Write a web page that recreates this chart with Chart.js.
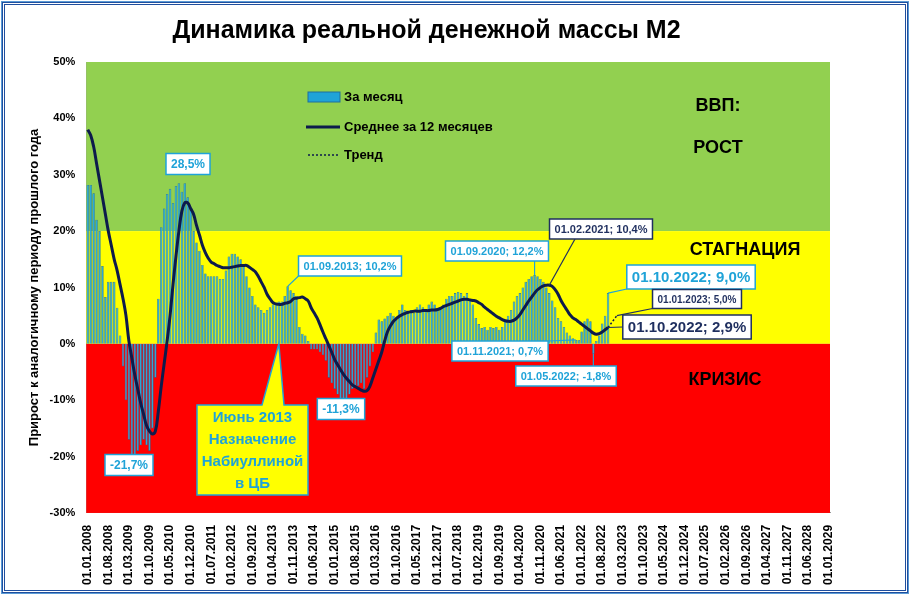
<!DOCTYPE html>
<html lang="ru">
<head>
<meta charset="UTF-8">
<title>Динамика реальной денежной массы М2</title>
<script src="https://cdn.jsdelivr.net/npm/chart.js"></script>
<style>
  html, body { margin: 0; padding: 0; background: #fff; }
  .frame { position: absolute; left: 2px; top: 2px; width: 900px; height: 585px; border: 3px double #1F4E9E; box-shadow: 0 0 0 1px #5B9BD5; }
  canvas { position: absolute; left: 0; top: 0; }
</style>
</head>
<body>
<div class="frame"></div>
<canvas id="m2" width="910" height="595"></canvas>
<script>
// Monthly categories 01.01.2008 .. 01.01.2029
const labels = [];
for (let y = 2008; y <= 2029; y++) {
  for (let m = 1; m <= 12; m++) {
    if (y === 2029 && m > 1) break;
    labels.push('01.' + String(m).padStart(2, '0') + '.' + y);
  }
}

// Real M2 growth, y/y, per month (2008-01 .. 2022-10)
const monthly = [
  28.2, 28.2, 26.7, 22, 20, 13.8, 8.3, 11, 11, 11, 6.4, 1.5,
  -4, -10, -17, -20, -21.7, -19, -18, -17, -18, -19, -15, -6,
  8, 20.7, 24, 26.6, 27.5, 25, 28, 28.5, 27, 28.5, 26, 24,
  20, 18, 16.5, 14, 12.5, 12, 12, 12, 12, 11.5, 11.5, 13,
  15.5, 16, 16, 15.5, 15, 14, 12, 10, 8.5, 7, 6.5, 6,
  5.5, 6, 6.5, 7, 7, 7.5, 7.5, 8.5, 10.2, 9.5, 9, 8.5,
  3, 1.8, 1.5, 0.5, -1, -1, -1, -1.5, -2, -3, -6, -7,
  -8, -9, -10.5, -11.3, -10, -9, -8, -7.5, -7.5, -7, -8, -6,
  -4, -1.5, 2, 4.3, 4, 4.5, 5, 5.5, 5, 4.5, 6, 7,
  6, 5.5, 6, 5.5, 6.5, 7, 6.5, 6, 7, 7.5, 7, 6,
  6.5, 7, 8, 8.5, 8.5, 9, 9.2, 9, 8.5, 9, 8, 7,
  4.6, 3.5, 2.8, 3, 2.5, 3, 2.8, 3, 2.5, 3, 4, 5,
  6, 7.5, 8.5, 9, 10, 11, 11.5, 12, 12.2, 12, 11.5, 11,
  10, 9, 7.7, 6.5, 4.6, 4, 3, 2, 1.5, 1, 0.7, 0.7,
  2.2, 4, 4.5, 4, -1.8, 0.5, 1.5, 3.6, 5, 9.0
];

// 12-month average
const avg12 = [
  38, 37, 35, 32, 29, 26, 23, 20, 17.5, 15, 13, 10.5,
  8, 5, 0.5, -2.5, -5.5, -8, -10.5, -12.5, -14.5, -15.5, -16, -15.5,
  -12, -7.5, -3.5, 0.5, 5, 10.5, 15.5, 20, 23.5, 25, 25, 24,
  23, 21, 19.3, 17.5, 16.2, 15.2, 14.5, 14.2, 13.9, 13.7, 13.5, 13.5,
  13.5, 13.6, 13.7, 13.8, 13.9, 13.9, 13.9, 13.6, 13.2, 12.8, 12, 11,
  10, 8.8, 8, 7.3, 7.1, 7, 7, 7.2, 7.3, 7.5, 8, 8.1,
  8.2, 8.3, 8, 7.6, 6.4, 5.5, 4.6, 3.4, 2.1, 0.9, -0.3, -1.5,
  -2.8, -3.7, -4.6, -5.4, -6.1, -6.7, -7.3, -7.6, -7.9, -8.2, -8.4, -8.3,
  -7.5, -6, -4.5, -3, -1.5, 0.5, 2.2, 3.2, 4, 4.5, 4.9, 5.2,
  5.4, 5.6, 5.7, 5.8, 5.8, 5.8, 5.9, 5.9, 5.9, 6, 6, 6.1,
  6.3, 6.6, 6.8, 7, 7.2, 7.4, 7.6, 7.8, 7.9, 7.9, 7.8, 7.7,
  7.6, 7.3, 7, 6.5, 6.1, 5.7, 5.3, 4.9, 4.6, 4.3, 4.1, 4,
  4, 4.2, 4.6, 5.2, 6, 6.8, 7.6, 8.3, 9, 9.6, 10, 10.3,
  10.4, 10.4, 10.2, 9.6, 8.8, 7.7, 6.8, 6, 5.2, 4.6, 4.3, 3.9,
  3.5, 3.1, 2.7, 2.3, 1.9, 1.7, 1.8, 2.1, 2.5, 2.9
];

// trend: 01.10.2022 -> 01.01.2023
const trendIdx = [177, 180];
const trendVal = [2.9, 5.0];

const yTicks = [-30, -20, -10, 0, 10, 20, 30, 40, 50];
const zones = [
  { from: 20, to: 50, color: '#92D050' },
  { from: 0, to: 20, color: '#FFFF00' },
  { from: -30, to: 0, color: '#FF0000' }
];
const zoneTitles = [
  { text: 'ВВП:', x: 718, y: 106 },
  { text: 'РОСТ', x: 718, y: 148 },
  { text: 'СТАГНАЦИЯ', x: 745, y: 250 },
  { text: 'КРИЗИС', x: 725, y: 380 }
];

const CYAN = '#1FA3D8', NAVY = '#1F2F5F';
// callouts: text, anchor (index, value), box centre in px
const callouts = [
  { text: '28,5%', cx: 188, cy: 164, color: CYAN, size: 12 },
  { text: '-21,7%', cx: 129, cy: 465, color: CYAN, size: 12 },
  { text: '-11,3%', cx: 341, cy: 409, color: CYAN, size: 12 },
  { text: '01.09.2013; 10,2%', cx: 350, cy: 266, color: CYAN, size: 11, i: 68, v: 10.2 },
  { text: '01.09.2020; 12,2%', cx: 497, cy: 251, color: CYAN, size: 11, i: 152, v: 12.2 },
  { text: '01.02.2021; 10,4%', cx: 601, cy: 229, color: NAVY, size: 11, i: 157, v: 10.4, ex: 575 },
  { text: '01.11.2021; 0,7%', cx: 500, cy: 351, color: CYAN, size: 11, i: 166, v: 0.7 },
  { text: '01.05.2022; -1,8%', cx: 566, cy: 376, color: CYAN, size: 11, i: 172, v: -1.8 },
  { text: '01.10.2022; 9,0%', cx: 691, cy: 277, color: CYAN, size: 15, i: 177, v: 9.0 },
  { text: '01.01.2023; 5,0%', cx: 697, cy: 299, color: NAVY, size: 10, i: 180, v: 5.0 },
  { text: '01.10.2022; 2,9%', cx: 687, cy: 327, color: NAVY, size: 15, i: 177, v: 2.9 }
];

const pad = (arr, n) => arr.concat(Array(n - arr.length).fill(null));
const trendData = labels.map((_, i) => { const k = trendIdx.indexOf(i); return k >= 0 ? trendVal[k] : null; });

const zonesPlugin = {
  id: 'zones',
  beforeDatasetsDraw(chart) {
    const { ctx, chartArea: a, scales: { y } } = chart;
    ctx.save();
    zones.forEach(z => {
      ctx.fillStyle = z.color;
      ctx.fillRect(a.left, y.getPixelForValue(z.to), a.right - a.left, y.getPixelForValue(z.from) - y.getPixelForValue(z.to));
    });
    ctx.restore();
  },
  afterDraw(chart) {
    const { ctx, scales: { x, y } } = chart;
    ctx.save();
    ctx.font = 'bold 18px "Liberation Sans", Arial';
    ctx.fillStyle = '#000';
    ctx.textAlign = 'center';
    ctx.textBaseline = 'middle';
    zoneTitles.forEach(t => ctx.fillText(t.text, t.x, t.y));

    // legend
    ctx.font = 'bold 13px "Liberation Sans", Arial';
    ctx.textAlign = 'left';
    ctx.fillStyle = CYAN; ctx.fillRect(308, 92, 32, 10);
    ctx.strokeStyle = '#1F6E9E'; ctx.strokeRect(308, 92, 32, 10);
    ctx.fillStyle = '#000'; ctx.fillText('За месяц', 344, 97);
    ctx.strokeStyle = '#0D1B4C'; ctx.lineWidth = 3;
    ctx.beginPath(); ctx.moveTo(306, 127); ctx.lineTo(340, 127); ctx.stroke();
    ctx.fillText('Среднее за 12 месяцев', 344, 127);
    ctx.lineWidth = 1.5; ctx.setLineDash([2, 2]);
    ctx.beginPath(); ctx.moveTo(308, 155); ctx.lineTo(340, 155); ctx.stroke();
    ctx.setLineDash([]);
    ctx.fillText('Тренд', 344, 155);

    // Nabiullina callout
    const px = x.getPixelForValue(65), py = y.getPixelForValue(0);
    ctx.fillStyle = '#FFFF00'; ctx.strokeStyle = CYAN; ctx.lineWidth = 1.5;
    ctx.beginPath();
    ctx.moveTo(197, 405); ctx.lineTo(262, 405); ctx.lineTo(px, py); ctx.lineTo(284, 405);
    ctx.lineTo(308, 405); ctx.lineTo(308, 495); ctx.lineTo(197, 495); ctx.closePath();
    ctx.fill(); ctx.stroke();
    ctx.fillStyle = CYAN; ctx.font = 'bold 15px "Liberation Sans", Arial'; ctx.textAlign = 'center';
    ['Июнь 2013', 'Назначение', 'Набиуллиной', 'в ЦБ'].forEach((s, k) => ctx.fillText(s, 252.5, 418 + k * 22));

    // value callouts
    callouts.forEach(c => {
      ctx.font = 'bold ' + c.size + 'px "Liberation Sans", Arial';
      const w = ctx.measureText(c.text).width + 10, h = c.size + 9;
      const bx = c.cx - w / 2, by = c.cy - h / 2;
      if (c.i !== undefined) {
        const ax = x.getPixelForValue(c.i), ay = y.getPixelForValue(c.v);
        ctx.strokeStyle = c.color; ctx.lineWidth = 1.2;
        ctx.beginPath();
        const ex = c.ex !== undefined ? c.ex : Math.max(bx, Math.min(bx + w, ax));
        const ey = ay < by ? by : (ay > by + h ? by + h : c.cy);
        ctx.moveTo(ex, ey); ctx.lineTo(ax, ay); ctx.stroke();
      }
      ctx.fillStyle = '#fff'; ctx.fillRect(bx, by, w, h);
      ctx.strokeStyle = c.color; ctx.lineWidth = 1.5; ctx.strokeRect(bx, by, w, h);
      ctx.fillStyle = c.color; ctx.textAlign = 'center';
      ctx.fillText(c.text, c.cx, c.cy + 1);
    });
    ctx.restore();
  }
};

new Chart(document.getElementById('m2'), {
  type: 'bar',
  data: {
    labels,
    datasets: [
      { type: 'line', label: 'Среднее за 12 месяцев', data: pad(avg12, labels.length), borderColor: '#0D1B4C', borderWidth: 3, pointRadius: 0, tension: 0.4, order: 1 },
      { type: 'line', label: 'Тренд', data: trendData, borderColor: '#0D1B4C', borderWidth: 1.5, borderDash: [2, 2], pointRadius: 0, spanGaps: true, order: 0 },
      { label: 'За месяц', data: pad(monthly, labels.length), backgroundColor: '#2AA7DA', borderColor: '#1F6E9E', borderWidth: 0.6, barPercentage: 1, categoryPercentage: 0.85, order: 2 }
    ]
  },
  options: {
    responsive: false,
    animation: false,
    layout: { padding: { left: 23, right: 80, top: 0, bottom: 6 } },
    plugins: {
      legend: { display: false },
      tooltip: { enabled: false },
      title: { display: true, text: 'Динамика реальной денежной массы М2', color: '#000', font: { family: '"Liberation Sans", Arial', size: 25, weight: 'bold' }, padding: { top: 16, bottom: 16 } }
    },
    scales: {
      x: {
        grid: { display: false },
        border: { color: '#999' },
        ticks: {
          autoSkip: false, maxRotation: 90, minRotation: 90, color: '#000', padding: 4,
          font: { family: '"Liberation Sans", Arial', size: 12, weight: 'bold' },
          callback: (v, i) => i % 7 === 0 ? labels[i] : ''
        }
      },
      y: {
        min: -30, max: 50,
        afterBuildTicks: ax => { ax.ticks = yTicks.map(v => ({ value: v })); },
        grid: { display: false },
        border: { color: '#999' },
        ticks: { color: '#000', font: { family: '"Liberation Sans", Arial', size: 11, weight: 'bold' }, callback: v => v + '%' },
        title: { display: true, text: 'Прирост к аналогичному периоду прошлого года', color: '#000', font: { family: '"Liberation Sans", Arial', size: 13, weight: 'bold' } }
      }
    }
  },
  plugins: [zonesPlugin]
});
</script>
</body>
</html>
